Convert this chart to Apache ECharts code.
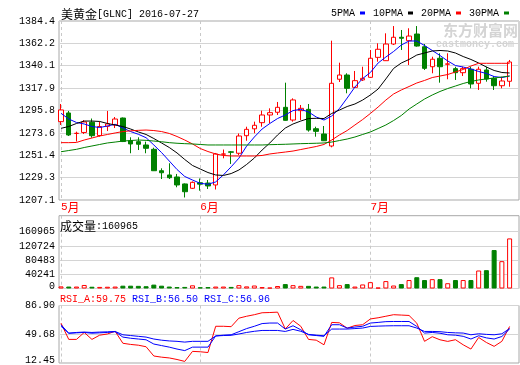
<!DOCTYPE html>
<html><head><meta charset="utf-8">
<script src="https://cdn.jsdelivr.net/npm/echarts@6/dist/echarts.min.js"></script>
<style>html,body{margin:0;padding:0;background:#fff}#c{width:520px;height:365px}</style>
</head><body><div id="c"></div>
<script>
// ---- data ----
const titleName = '美黄金';
const titleCode = '[GLNC] 2016-07-27';
const monthTickIndex = [0, 18, 40];
const monthLabels = ['5月', '6月', '7月'];
const priceTicks = [1207.1, 1229.3, 1251.4, 1273.6, 1295.8, 1317.9, 1340.1, 1362.2, 1384.4];
const volTicks = [0, 40241, 80483, 120724, 160965];
const rsiTicks = [12.45, 49.68, 86.90];
const volLabel = '成交量';
const volLast = 160965;

const open  = [1284.7,1293.3,1273.0,1274.0,1284.1,1271.0,1280.1,1281.4,1288.3,1265.8,
               1264.9,1261.6,1257.3,1236.1,1231.9,1229.9,1223.0,1218.7,1224.2,1223.9,
               1222.0,1252.5,1254.8,1253.4,1270.8,1277.6,1283.7,1291.3,1294.0,1298.9,
               1286.3,1295.6,1296.9,1277.7,1272.5,1260.6,1326.7,1330.9,1318.7,1326.0,
               1328.6,1348.4,1345.1,1361.6,1368.3,1364.9,1371.5,1358.9,1339.1,1347.5,
               1341.6,1337.2,1333.2,1336.6,1322.7,1335.9,1327.6,1320.3,1324.7];
const close = [1296.3,1271.5,1273.2,1284.4,1270.8,1279.9,1282.4,1287.3,1265.0,1262.6,
               1262.3,1258.3,1236.1,1234.1,1229.2,1222.0,1215.3,1224.6,1222.8,1221.0,
               1252.7,1252.7,1254.4,1270.5,1277.1,1281.1,1291.3,1293.6,1298.9,1286.0,
               1306.2,1297.9,1276.4,1275.1,1265.8,1322.7,1330.9,1317.7,1325.3,1327.6,
               1347.5,1356.4,1361.6,1368.3,1367.3,1369.5,1359.6,1337.5,1346.5,1339.1,
               1341.9,1333.2,1337.2,1322.0,1336.6,1326.9,1320.3,1325.0,1343.8];
const low   = [1281.4,1270.5,1265.0,1272.5,1268.8,1269.8,1275.4,1278.4,1264.5,1253.4,
               1256.6,1253.4,1235.8,1227.9,1227.9,1219.7,1209.6,1218.0,1216.3,1218.0,
               1217.5,1248.4,1242.8,1251.7,1265.8,1273.2,1279.7,1283.1,1291.3,1285.6,
               1284.7,1286.3,1274.8,1269.8,1265.5,1259.3,1324.0,1312.8,1318.5,1325.0,
               1328.0,1344.1,1344.8,1360.6,1355.7,1340.8,1359.0,1335.9,1332.6,1323.3,
               1326.7,1326.0,1329.9,1317.7,1316.1,1324.3,1316.1,1317.7,1319.3];
const high  = [1302.2,1295.3,1274.8,1286.3,1287.8,1284.9,1295.3,1289.3,1288.8,1269.2,
               1269.2,1264.9,1258.9,1238.5,1243.5,1232.9,1223.5,1225.5,1228.4,1226.9,
               1253.7,1257.1,1255.6,1273.0,1279.7,1284.7,1295.6,1297.9,1304.2,1323.3,
               1307.8,1301.2,1302.2,1279.7,1280.4,1364.9,1343.1,1332.6,1334.9,1339.1,
               1355.7,1362.3,1372.2,1379.4,1375.5,1377.2,1379.4,1361.6,1349.0,1352.4,
               1352.4,1339.1,1339.1,1339.1,1339.1,1339.1,1329.9,1329.2,1345.8];

const ma5  = [1293.0,1287.3,1283.9,1282.4,1279.9,1278.9,1280.4,1282.1,1278.4,1274.9,
              1272.2,1268.8,1261.6,1254.1,1245.7,1237.3,1230.4,1226.9,1223.6,1222.7,
              1225.0,1232.0,1240.0,1248.5,1260.5,1269.5,1277.4,1282.9,1287.8,1291.3,
              1295.7,1296.9,1294.3,1289.3,1286.3,1290.3,1297.7,1308.1,1319.0,1327.4,
              1333.4,1342.8,1348.7,1354.2,1360.6,1364.6,1364.6,1360.1,1355.2,1350.2,
              1344.8,1340.3,1338.8,1336.9,1334.4,1332.4,1329.4,1328.4,1329.9];
const ma10 = [1278.1,1279.9,1282.9,1285.3,1285.3,1284.9,1282.9,1281.4,1279.9,1277.4,
              1274.5,1272.0,1268.0,1263.6,1259.1,1253.7,1247.2,1241.3,1237.8,1234.3,
              1231.9,1231.4,1233.3,1236.8,1242.3,1248.7,1256.6,1263.6,1271.5,1278.4,
              1282.4,1285.3,1287.8,1288.0,1287.8,1292.8,1296.2,1299.7,1302.2,1306.1,
              1311.1,1317.0,1327.0,1337.4,1342.8,1346.3,1350.7,1352.7,1354.7,1355.2,
              1354.7,1352.7,1349.2,1346.3,1342.8,1338.8,1335.4,1333.4,1332.9];
const ma20 = [1263.9,1263.9,1264.1,1266.5,1268.5,1270.5,1272.0,1273.5,1274.9,1275.6,
              1276.1,1276.4,1275.9,1274.9,1273.0,1270.0,1266.5,1262.6,1258.1,1255.1,
              1252.7,1251.2,1250.7,1250.7,1250.7,1250.7,1251.2,1252.7,1253.7,1254.6,
              1255.6,1257.1,1258.6,1260.1,1262.1,1266.5,1271.5,1275.9,1281.4,1286.8,
              1292.8,1299.2,1306.1,1312.1,1316.1,1319.5,1323.0,1325.5,1328.4,1329.9,
              1331.4,1333.9,1336.4,1339.8,1342.5,1342.5,1342.5,1342.5,1342.5];
const ma30 = [1254.9,1256.1,1257.3,1259.1,1260.6,1262.1,1263.6,1264.5,1265.5,1266.0,
              1266.5,1266.2,1265.5,1264.8,1263.9,1263.3,1262.9,1262.6,1262.1,1261.6,
              1261.6,1261.6,1261.6,1261.6,1261.6,1261.6,1261.6,1261.9,1262.1,1262.3,
              1262.6,1262.9,1263.1,1263.3,1263.6,1264.5,1266.0,1267.5,1269.5,1272.0,
              1274.5,1277.9,1281.4,1285.8,1290.8,1297.2,1302.2,1307.1,1311.1,1314.6,
              1317.5,1320.0,1322.5,1324.5,1326.0,1327.0,1327.9,1328.9,1329.9];

const volume = [6000,5500,5500,10000,5000,4500,5000,5500,8000,8000,
                7500,6500,11000,8000,5500,4000,4500,9000,3500,4000,
                5500,5500,4500,9500,6000,8500,4000,2500,7000,12500,
                9500,7500,7500,5500,5500,31500,9500,12500,5500,11500,
                18000,2500,21000,8500,12500,24000,32000,24000,26500,26500,
                15000,24000,24000,24000,51000,52000,109000,77500,142000];

const rsiA = [64,43,43,52,43,48.5,50,53.5,38,36.5,
              35.5,33.5,21.5,20,19,17,14.5,27.5,27,26,
              60,60,59.5,70.5,73,75,77.5,77.8,78.3,56.5,
              67.5,60,43,42,36,65,64.5,57.5,61,62,
              69.5,71,73,75,74.5,74,64,40.5,46.5,42.5,
              40.4,42.6,36,30.5,45.5,39,34,40.5,59.75];
const rsiB = [62,51,51.5,52,51,51.5,52,53,46,44.5,
              43.5,42.5,37,35,33,30.5,28.5,33,33,33,
              47.5,48.5,49,53,57,60,63.5,64.2,64.2,56.4,
              60.7,55.5,49,48,47,62,62,57.7,59,60,
              64.2,65,66,66.2,66.2,66.2,59.8,51.2,52,51,
              49,48.5,47,43.5,47.7,45,43.5,46.8,56.50];
const rsiC = [60,51,52,52.5,52,52.5,52.8,53.3,49,48,
              47,46,43.5,42,41,40.5,39.5,40.5,40.5,40.5,
              47.5,48,48.3,50,52,53.5,54.6,54.6,54.6,53.3,
              56,53.5,49.5,48.5,47.7,56.4,56.4,56.4,57,57.7,
              59.8,60.2,60.5,60.7,60.7,60.7,57.7,53.3,53.3,53,
              52,51.5,51.2,49,50.3,49.5,49,50.3,56.96];

// ---- chart ----
const MONO = "'Liberation Mono', monospace";
const CJK = "'Noto Sans CJK SC', sans-serif";
const RED = '#ff0000', GREEN = '#008000', BLUE = '#0000ff';
const N = close.length;
const idx = close.map((_, i) => i);
const xMin = -0.2586, xMax = 59.215;

const grids = [
  {left: 59, top: 21, width: 460, height: 179},
  {left: 59, top: 215.7, width: 460, height: 72.8},
  {left: 59, top: 305.5, width: 460, height: 57.8}
].map(g => Object.assign(g, {show: true, borderColor: '#a8a8a8', borderWidth: 1, backgroundColor: 'transparent', containLabel: false}));

function xAx(g) {
  return {
    type: 'value', gridIndex: g, min: xMin, max: xMax,
    axisLine: {show: false},
    axisTick: {show: false, customValues: monthTickIndex},
    axisLabel: g === 0 ? {
      show: true, customValues: monthTickIndex, align: 'left', margin: 1,
      formatter: v => { const s = monthLabels[monthTickIndex.indexOf(v)] || ''; return '{a|' + s.slice(0, -1) + '}{c|' + s.slice(-1) + '}'; },
      rich: {a: {fontFamily: MONO, fontSize: 11, color: RED}, c: {fontFamily: CJK, fontSize: 12, color: RED}}
    } : {show: false, customValues: monthTickIndex},
    splitLine: {show: true, lineStyle: {type: [3, 3], color: '#c8c8c8', width: 1}}
  };
}
function yAx(g, min, max, ticks, fmt, lowShift) {
  return {
    type: 'value', gridIndex: g, min: min, max: max,
    axisLine: {show: false},
    axisTick: {show: false, customValues: ticks},
    axisLabel: {
      customValues: ticks, margin: 4, color: '#000', fontFamily: MONO, fontSize: 10,
      formatter: v => (v === ticks[0] && lowShift) ? '{lo|' + fmt(v) + '}' : fmt(v),
      rich: {lo: {fontFamily: MONO, fontSize: 10, color: '#000', padding: [0, 0, lowShift || 0, 0]}}
    },
    splitLine: {show: true, lineStyle: {color: '#d4d4d4', width: 1}}
  };
}

const chart = echarts.init(document.getElementById('c'));
const up = i => close[i] >= open[i];
const plain = {fontWeight: 'normal'};

chart.setOption({
  animation: false,
  backgroundColor: '#fff',
  grid: grids,
  xAxis: [xAx(0), xAx(1), xAx(2)],
  yAxis: [
    yAx(0, priceTicks[0], priceTicks[priceTicks.length - 1], priceTicks, v => v.toFixed(1), 0),
    yAx(1, 0, 206400, volTicks, v => String(v), 5),
    yAx(2, rsiTicks[0], rsiTicks[rsiTicks.length - 1], rsiTicks, v => v.toFixed(2), 6)
  ],
  title: [
    {text: '{c|' + titleName + '}{a|' + titleCode + '}', left: 61, top: 8, padding: 0,
     textStyle: {fontWeight: 'normal', rich: {c: {fontFamily: CJK, fontSize: 12, fontWeight: 'normal', color: '#000', lineHeight: 13}, a: {fontFamily: MONO, fontSize: 10, fontWeight: 'normal', color: '#000', lineHeight: 13}}}},
    {text: '{c|' + volLabel + '}{a|:' + volLast + '}', left: 60, top: 220, padding: 0,
     textStyle: {fontWeight: 'normal', rich: {c: {fontFamily: CJK, fontSize: 12, fontWeight: 'normal', color: '#000', lineHeight: 13}, a: {fontFamily: MONO, fontSize: 10, fontWeight: 'normal', color: '#000', lineHeight: 13}}}},
    {text: 'RSI_A:' + rsiA[N - 1].toFixed(2), left: 60, top: 294, padding: 0, textStyle: {fontFamily: MONO, fontSize: 10, fontWeight: 'normal', color: RED}},
    {text: 'RSI_B:' + rsiB[N - 1].toFixed(2), left: 132, top: 294, padding: 0, textStyle: {fontFamily: MONO, fontSize: 10, fontWeight: 'normal', color: BLUE}},
    {text: 'RSI_C:' + rsiC[N - 1].toFixed(2), left: 204, top: 294, padding: 0, textStyle: {fontFamily: MONO, fontSize: 10, fontWeight: 'normal', color: BLUE}}
  ],
  legend: {
    data: ['5PMA', '10PMA', '20PMA', '30PMA'], left: 331, top: 8, padding: 0,
    align: 'right', icon: 'rect', itemWidth: 5, itemHeight: 3, itemGap: 8, selectedMode: false,
    textStyle: {fontFamily: MONO, fontSize: 10, color: '#000'}
  },
  graphic: [
    {type: 'text', left: 443, top: 23, z: 0, style: {text: '东方财富网', fill: '#d4d4d4', font: 'bold 15px ' + CJK}},
    {type: 'text', left: 436, top: 39, z: 0, style: {text: 'eastmoney.com', fill: '#d4d4d4', font: 'bold 10px ' + MONO}}
  ],
  series: [
    {type: 'candlestick', xAxisIndex: 0, yAxisIndex: 0, barWidth: 5, z: 3,
     data: idx.map(i => [i, open[i], close[i], low[i], high[i]]),
     itemStyle: {color: '#ffffff', color0: GREEN, borderColor: RED, borderColor0: GREEN, borderWidth: 1}},
    {name: '5PMA', type: 'line', xAxisIndex: 0, yAxisIndex: 0, data: idx.map(i => [i, ma5[i]]), showSymbol: false, symbol: 'none', color: BLUE, lineStyle: {width: 1, color: BLUE}, z: 4},
    {name: '10PMA', type: 'line', xAxisIndex: 0, yAxisIndex: 0, data: idx.map(i => [i, ma10[i]]), showSymbol: false, symbol: 'none', color: '#000', lineStyle: {width: 1, color: '#000'}, z: 4},
    {name: '20PMA', type: 'line', xAxisIndex: 0, yAxisIndex: 0, data: idx.map(i => [i, ma20[i]]), showSymbol: false, symbol: 'none', color: RED, lineStyle: {width: 1, color: RED}, z: 4},
    {name: '30PMA', type: 'line', xAxisIndex: 0, yAxisIndex: 0, data: idx.map(i => [i, ma30[i]]), showSymbol: false, symbol: 'none', color: GREEN, lineStyle: {width: 1, color: GREEN}, z: 4},
    {type: 'bar', xAxisIndex: 1, yAxisIndex: 1, barWidth: 5,
     data: idx.map(i => ({value: [i, volume[i]], itemStyle: up(i) ? {color: '#ffffff', borderColor: RED, borderWidth: 1} : {color: GREEN, borderColor: GREEN, borderWidth: 1}}))},
    {type: 'line', xAxisIndex: 2, yAxisIndex: 2, data: idx.map(i => [i, rsiA[i]]), showSymbol: false, symbol: 'none', lineStyle: {width: 1, color: RED}},
    {type: 'line', xAxisIndex: 2, yAxisIndex: 2, data: idx.map(i => [i, rsiB[i]]), showSymbol: false, symbol: 'none', lineStyle: {width: 1, color: BLUE}},
    {type: 'line', xAxisIndex: 2, yAxisIndex: 2, data: idx.map(i => [i, rsiC[i]]), showSymbol: false, symbol: 'none', lineStyle: {width: 1, color: BLUE}}
  ]
});
</script></body></html>
